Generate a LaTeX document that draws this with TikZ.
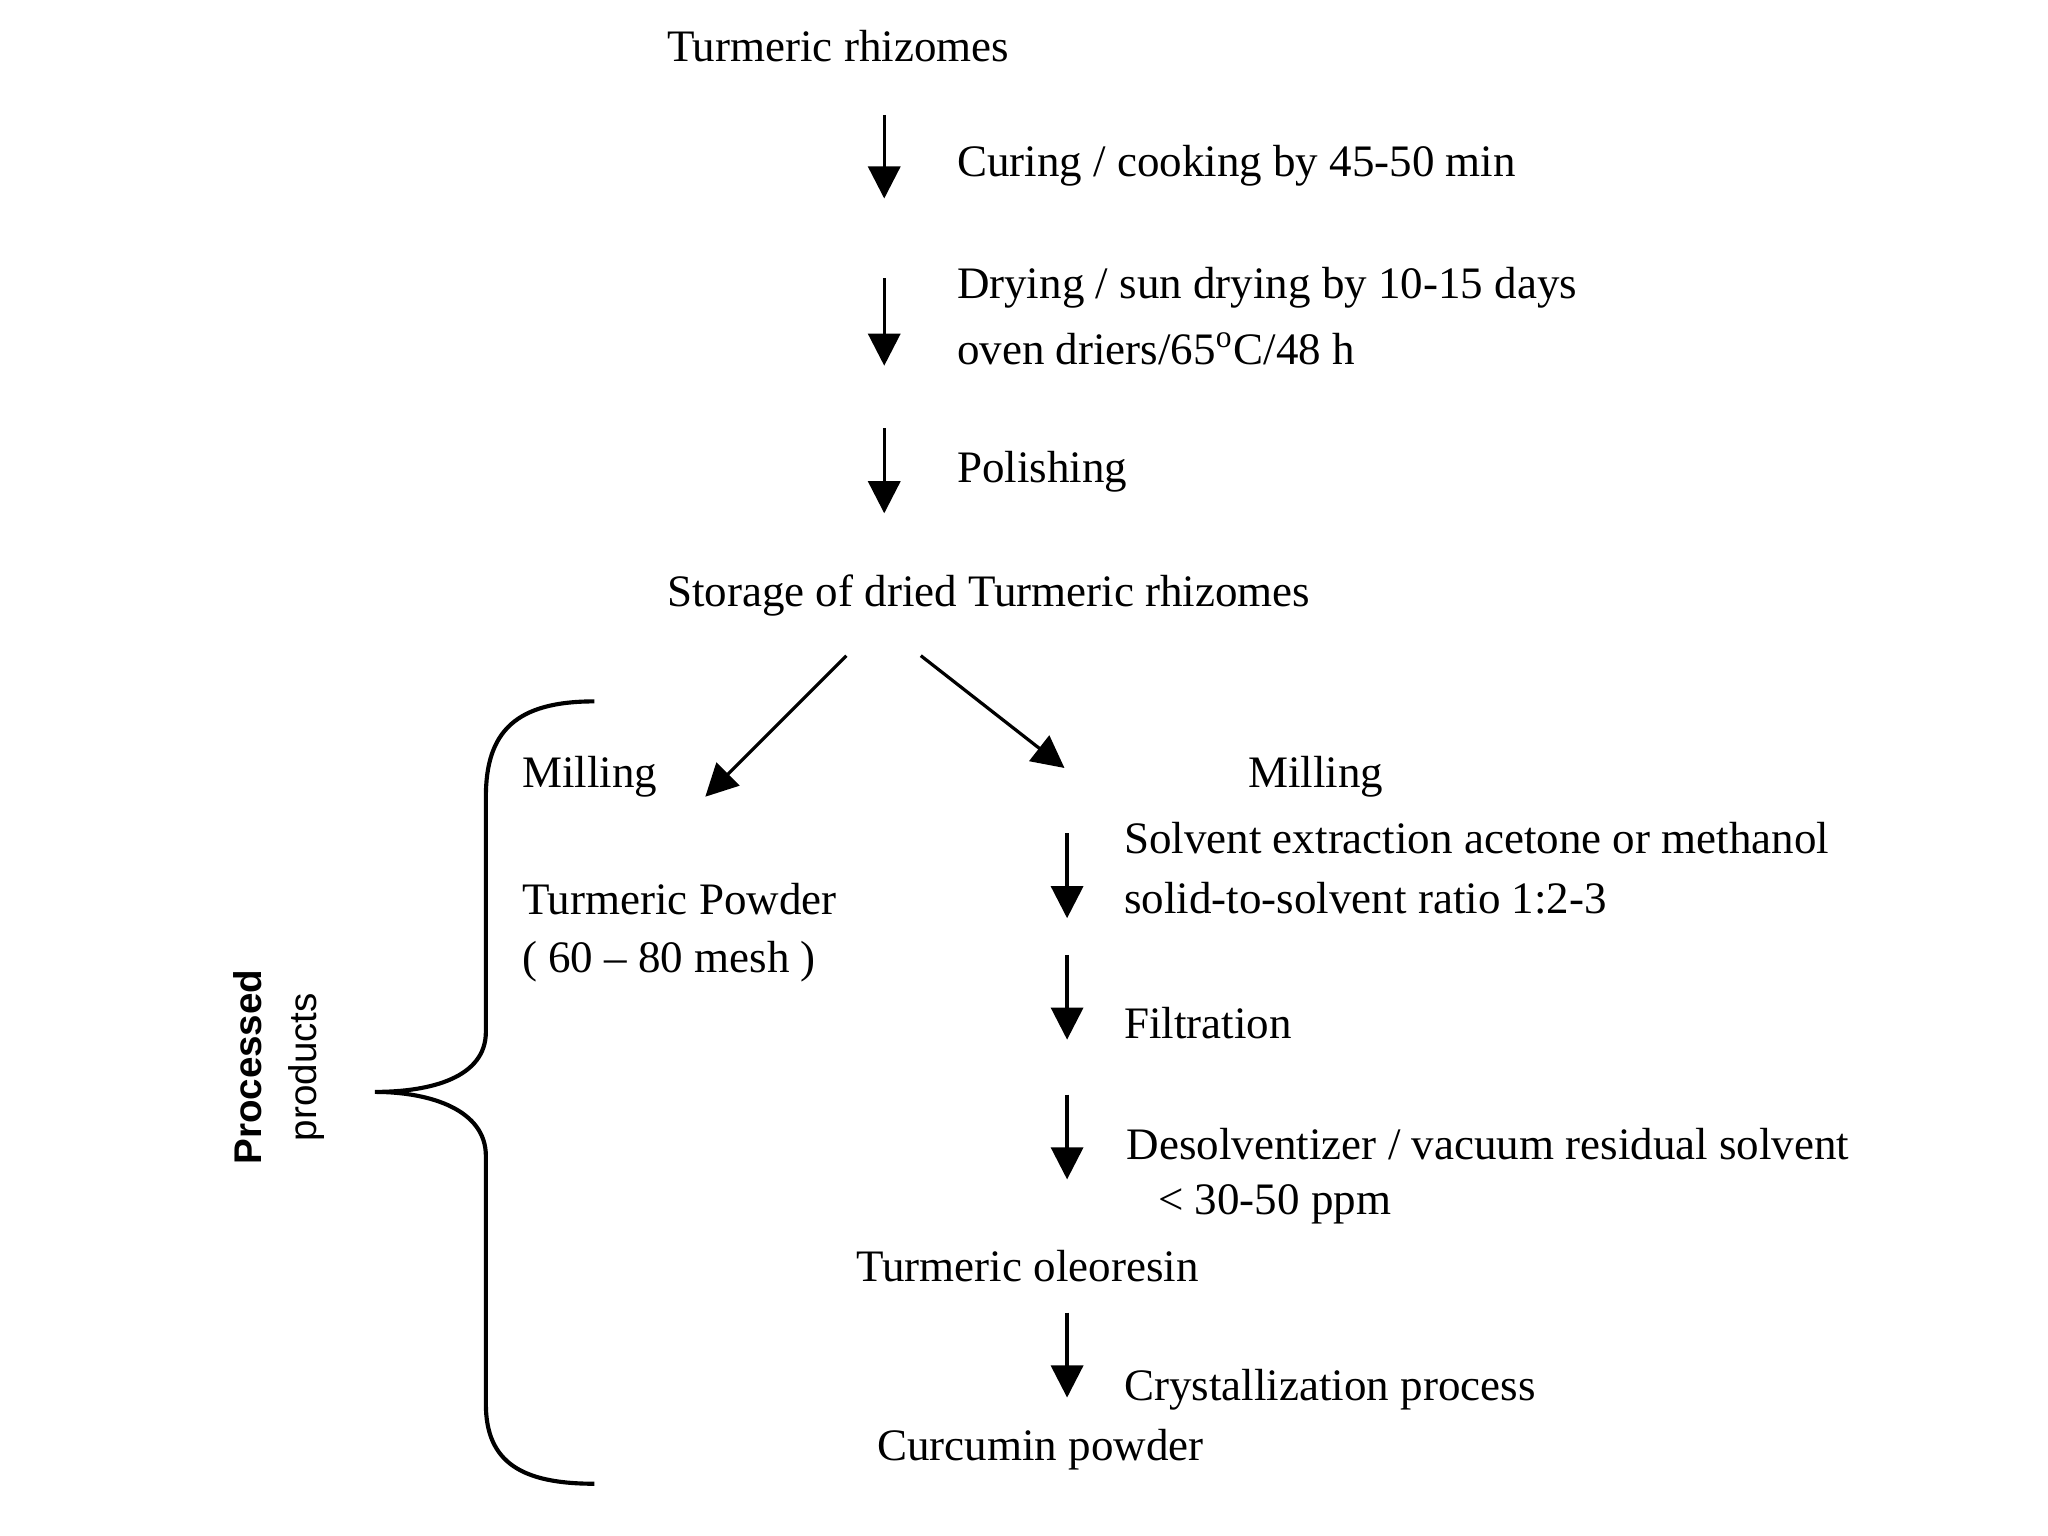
\documentclass[tikz,border=0pt]{standalone}
\usepackage{fontspec}
\setmainfont{Liberation Serif}
\newfontfamily\sansf{Liberation Sans}
\usetikzlibrary{arrows.meta}
\begin{document}
\begin{tikzpicture}[x=0.01cm,y=-0.01cm,
  t/.style={anchor=west,inner sep=0,font=\fontsize{9.8}{12}\selectfont},
  a/.style={-{Triangle[length=7pt,width=7pt]},line width=0.7pt}]
\useasboundingbox (0,0) rectangle (1568,1176);
\node[t] (n1) at (510,35) {Turmeric rhizomes};
\coordinate (a1s) at (677,88); \coordinate (a1e) at (677,152);
\draw[a] (a1s) -- (a1e);
\node[t] (l1) at (732,127) {Curing / cooking by 45-50 min};
\coordinate (a2s) at (677,213); \coordinate (a2e) at (677,280);
\draw[a] (a2s) -- (a2e);
\node[t] (l2) at (732,220) {Drying / sun drying by 10-15 days};
\node[t] (l3) at (732,267) {oven driers/65\textsuperscript{o}C/48 h};
\coordinate (a3s) at (677,328); \coordinate (a3e) at (677,393);
\draw[a] (a3s) -- (a3e);
\node[t] (l4) at (732,361) {Polishing};
\node[t] (n2) at (510,456) {Storage of dried Turmeric rhizomes};
\coordinate (d1s) at (648,502); \coordinate (d1e) at (540,610);
\coordinate (d2s) at (705,502); \coordinate (d2e) at (815,588);
\draw[a] (d1s) -- (d1e);
\draw[a] (d2s) -- (d2e);
\node[t] (m1) at (399,595) {Milling};
\node[t] (m2) at (955,595) {Milling};
\node[t] (tp) at (399,688) {Turmeric Powder};
\node[t] (tp2) at (399,736) {( 60 -- 80 mesh )};
\coordinate (b1s) at (817,638); \coordinate (b1e) at (817,703);
\draw[a] (b1s) -- (b1e);
\node[t] (s1) at (860,642) {Solvent extraction acetone or methanol};
\node[t] (s2) at (860,688) {solid-to-solvent ratio 1:2-3};
\coordinate (b2s) at (817,731); \coordinate (b2e) at (817,796);
\draw[a] (b2s) -- (b2e);
\node[t] (f) at (860,783) {Filtration};
\coordinate (b3s) at (817,838); \coordinate (b3e) at (817,903);
\draw[a] (b3s) -- (b3e);
\node[t] (dv) at (862,876) {Desolventizer / vacuum residual solvent};
\node[t] (dv2) at (886,922) {< 30-50 ppm};
\node[t] (to) at (655,969) {Turmeric oleoresin};
\coordinate (b4s) at (817,1005); \coordinate (b4e) at (817,1070);
\draw[a] (b4s) -- (b4e);
\node[t] (cr) at (860,1064) {Crystallization process};
\node[t] (cp) at (671,1110) {Curcumin powder};
\draw[line width=0.9pt] (455,537) .. controls (395,537) and (372,560) .. (372,610)
  -- (372,790) .. controls (372,825) and (330,836) .. (287,836)
  .. controls (330,836) and (372,850) .. (372,885)
  -- (372,1075) .. controls (372,1120) and (400,1136) .. (455,1136);
\node[rotate=90,font=\sansf\bfseries\fontsize{8.4}{10}\selectfont,inner sep=0] (pp) at (190,817) {Processed};
\node[rotate=90,font=\sansf\fontsize{8.4}{10}\selectfont,inner sep=0] (pp2) at (235,817) {products};
\end{tikzpicture}
\end{document}
